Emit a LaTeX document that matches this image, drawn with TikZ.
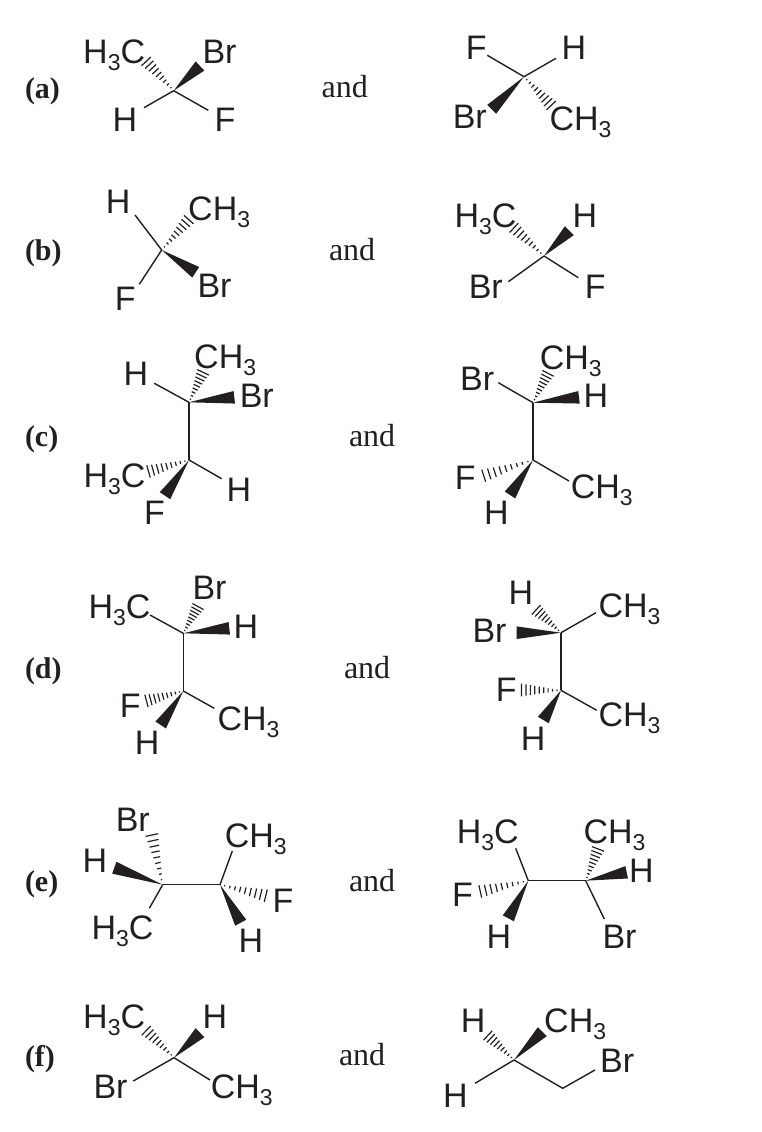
\documentclass[tikz,border=0pt]{standalone}
\usepackage{fontspec}
\usetikzlibrary{calc}
\newfontfamily\atomfont{Liberation Sans}
\newfontfamily\labelfont{Liberation Serif}
\definecolor{inkblack}{HTML}{231F20}
\newcommand{\subthree}{\raisebox{-7pt}{\fontsize{23}{23}\selectfont 3}}
\newcommand{\wedgebond}[2]{\fill[inkblack] (#1) -- ($(#2)!6.3pt!90:(#1)$) -- ($(#2)!6.3pt!-90:(#1)$) -- cycle;}
\newcommand{\hashbond}[2]{\foreach \t in {0.1,0.21,0.32,0.43,0.54,0.65,0.76,0.87,0.98} {
	\coordinate (hashpt) at ($(#1)!\t!(#2)$);
	\draw[hashline] ($(hashpt)!\t*6.5pt!90:(#2)$) -- ($(hashpt)!\t*6.5pt!-90:(#2)$);
}}
\tikzset{
	atom/.style={font=\atomfont\fontsize{34}{34}\selectfont,text=inkblack,anchor=base west,inner sep=0,outer sep=0,xshift=-2.5pt,yshift=-0.5pt},
	partlabel/.style={font=\labelfont\bfseries\fontsize{30}{30}\selectfont,text=inkblack,anchor=base west,inner sep=0,outer sep=0},
	andlabel/.style={font=\labelfont\fontsize{32}{32}\selectfont,text=inkblack,anchor=base west,inner sep=0,outer sep=0},
	bond/.style={draw=inkblack,line width=1.4pt},
	hashline/.style={draw=inkblack,line width=1.2pt}
}
\begin{document}
\begin{tikzpicture}[x=1pt,y=-1pt]
	\useasboundingbox (0,0) rectangle (762,1132);

	\node[partlabel] (pa) at (25,98.3) {(a)};
	\node[andlabel] (anda) at (321.7,97.3) {and};
	\node[atom] (a1me) at (85.7,62.7) {H\subthree C};
	\node[atom] (a1br) at (205,62.7) {Br};
	\node[atom] (a1h) at (115,130.7) {H};
	\node[atom] (a1f) at (217,130.7) {F};
	\coordinate (a1) at (173.7,90.7);
	\coordinate (a1mee) at (145.7,60.7);
	\coordinate (a1bre) at (200,66);
	\coordinate (a1he) at (144,107.7);
	\coordinate (a1fe) at (208.3,110.3);
	\hashbond{a1}{a1mee}
	\wedgebond{a1}{a1bre}
	\draw[bond] (a1) -- (a1he);
	\draw[bond] (a1) -- (a1fe);

	\node[atom] (a2f) at (468.3,59) {F};
	\node[atom] (a2h) at (564,59) {H};
	\node[atom] (a2br) at (455.3,128.3) {Br};
	\node[atom] (a2me) at (552,130) {CH\subthree};
	\coordinate (a2) at (524,76.7);
	\coordinate (a2fe) at (487.3,55.3);
	\coordinate (a2he) at (556,58.3);
	\coordinate (a2bre) at (491.7,109.3);
	\coordinate (a2mee) at (551.7,106);
	\draw[bond] (a2) -- (a2fe);
	\draw[bond] (a2) -- (a2he);
	\wedgebond{a2}{a2bre}
	\hashbond{a2}{a2mee}

	\node[partlabel] (pb) at (25,260.7) {(b)};
	\node[andlabel] (andb) at (329,260.7) {and};
	\node[atom] (b1h) at (108.3,213.3) {H};
	\node[atom] (b1me) at (190.7,220) {CH\subthree};
	\node[atom] (b1br) at (200,296.7) {Br};
	\node[atom] (b1f) at (117.3,310) {F};
	\coordinate (b1) at (161.7,250);
	\coordinate (b1he) at (135,215);
	\coordinate (b1mee) at (189.3,219);
	\coordinate (b1bre) at (195.7,272.3);
	\coordinate (b1fe) at (139.3,284.3);
	\draw[bond] (b1) -- (b1he);
	\hashbond{b1}{b1mee}
	\wedgebond{b1}{b1bre}
	\draw[bond] (b1) -- (b1fe);

	\node[atom] (b2me) at (457,226.7) {H\subthree C};
	\node[atom] (b2h) at (575,226.7) {H};
	\node[atom] (b2br) at (471.3,298.3) {Br};
	\node[atom] (b2f) at (587.3,297.7) {F};
	\coordinate (b2) at (544,256);
	\coordinate (b2mee) at (513.3,227.3);
	\coordinate (b2he) at (569.3,230.7);
	\coordinate (b2bre) at (508.3,281.7);
	\coordinate (b2fe) at (578.3,277.7);
	\hashbond{b2}{b2mee}
	\wedgebond{b2}{b2he}
	\draw[bond] (b2) -- (b2bre);
	\draw[bond] (b2) -- (b2fe);

	\node[partlabel] (pc) at (25,446.7) {(c)};
	\node[andlabel] (andc) at (349,446.7) {and};
	\node[atom] (c1me) at (196.7,367.7) {CH\subthree};
	\node[atom] (c1h) at (126,385) {H};
	\node[atom] (c1br) at (242.3,406.7) {Br};
	\node[atom] (c1mb) at (86,486.7) {H\subthree C};
	\node[atom] (c1f) at (146.7,524) {F};
	\node[atom] (c1hb) at (229,500.7) {H};
	\coordinate (c1) at (189,402.3);
	\coordinate (c1b) at (189,460);
	\coordinate (c1mee) at (203.3,371.7);
	\coordinate (c1he) at (154.3,383.3);
	\coordinate (c1bre) at (234.3,397.3);
	\coordinate (c1mbe) at (147.7,471.7);
	\coordinate (c1fe) at (165,495.7);
	\coordinate (c1hbe) at (221.7,478.7);
	\draw[bond] (c1) -- (c1b);
	\hashbond{c1}{c1mee}
	\draw[bond] (c1) -- (c1he);
	\wedgebond{c1}{c1bre}
	\hashbond{c1b}{c1mbe}
	\wedgebond{c1b}{c1fe}
	\draw[bond] (c1b) -- (c1hbe);

	\node[atom] (c2me) at (542.3,369.3) {CH\subthree};
	\node[atom] (c2br) at (462.7,390) {Br};
	\node[atom] (c2h) at (586,406.7) {H};
	\node[atom] (c2f) at (457.3,489.3) {F};
	\node[atom] (c2hb) at (486.7,524.3) {H};
	\node[atom] (c2mb) at (573.3,497.7) {CH\subthree};
	\coordinate (c2) at (533,402.7);
	\coordinate (c2b) at (533,460);
	\coordinate (c2mee) at (548.3,372.7);
	\coordinate (c2bre) at (498.3,382.7);
	\coordinate (c2he) at (579,397.3);
	\coordinate (c2fe) at (482.7,476);
	\coordinate (c2hbe) at (510,495);
	\coordinate (c2mbe) at (569,481);
	\draw[bond] (c2) -- (c2b);
	\hashbond{c2}{c2mee}
	\draw[bond] (c2) -- (c2bre);
	\wedgebond{c2}{c2he}
	\hashbond{c2b}{c2fe}
	\wedgebond{c2b}{c2hbe}
	\draw[bond] (c2b) -- (c2mbe);

	\node[partlabel] (pd) at (25,678.3) {(d)};
	\node[andlabel] (andd) at (344,678.3) {and};
	\node[atom] (d1me) at (91,617.7) {H\subthree C};
	\node[atom] (d1br) at (195,599.3) {Br};
	\node[atom] (d1h) at (236,637.7) {H};
	\node[atom] (d1f) at (122.3,716.7) {F};
	\node[atom] (d1hb) at (137.3,754.3) {H};
	\node[atom] (d1mb) at (220,730) {CH\subthree};
	\coordinate (d1) at (183.3,633.3);
	\coordinate (d1b) at (183.3,691);
	\coordinate (d1mee) at (150,615);
	\coordinate (d1bre) at (198.3,606);
	\coordinate (d1he) at (229.3,628.3);
	\coordinate (d1fe) at (145.7,701);
	\coordinate (d1hbe) at (160.7,725);
	\coordinate (d1mbe) at (214.3,708.3);
	\draw[bond] (d1) -- (d1b);
	\draw[bond] (d1) -- (d1mee);
	\hashbond{d1}{d1bre}
	\wedgebond{d1}{d1he}
	\hashbond{d1b}{d1fe}
	\wedgebond{d1b}{d1hbe}
	\draw[bond] (d1b) -- (d1mbe);

	\node[atom] (d2h) at (511,604) {H};
	\node[atom] (d2me) at (601,617.3) {CH\subthree};
	\node[atom] (d2br) at (475,641.7) {Br};
	\node[atom] (d2f) at (498.3,701) {F};
	\node[atom] (d2hb) at (523.3,750) {H};
	\node[atom] (d2mb) at (601,726) {CH\subthree};
	\coordinate (d2) at (561,632.7);
	\coordinate (d2b) at (561,690.3);
	\coordinate (d2he) at (535.7,609.3);
	\coordinate (d2mee) at (596,612.7);
	\coordinate (d2bre) at (516.7,632.7);
	\coordinate (d2fe) at (520.7,690);
	\coordinate (d2hbe) at (543.3,720);
	\coordinate (d2mbe) at (596.7,710.3);
	\draw[bond] (d2) -- (d2b);
	\hashbond{d2}{d2he}
	\draw[bond] (d2) -- (d2mee);
	\wedgebond{d2}{d2bre}
	\hashbond{d2b}{d2fe}
	\wedgebond{d2b}{d2hbe}
	\draw[bond] (d2b) -- (d2mbe);

	\node[partlabel] (pe) at (25,891.7) {(e)};
	\node[andlabel] (ande) at (349,891.7) {and};
	\node[atom] (e1br) at (118.3,830.7) {Br};
	\node[atom] (e1h) at (85,871.7) {H};
	\node[atom] (e1me) at (94,939) {H\subthree C};
	\node[atom] (e1mr) at (227.3,847.3) {CH\subthree};
	\node[atom] (e1f) at (275,911.7) {F};
	\node[atom] (e1hr) at (241,952.3) {H};
	\coordinate (e1) at (162.7,884.7);
	\coordinate (e1r) at (220,884.7);
	\coordinate (e1bre) at (151.7,834);
	\coordinate (e1he) at (114.3,867.7);
	\coordinate (e1mee) at (149.3,908.3);
	\coordinate (e1mre) at (232.3,851);
	\coordinate (e1fe) at (266.7,896);
	\coordinate (e1hre) at (240.7,922.7);
	\draw[bond] (e1) -- (e1r);
	\hashbond{e1}{e1bre}
	\wedgebond{e1}{e1he}
	\draw[bond] (e1) -- (e1mee);
	\draw[bond] (e1r) -- (e1mre);
	\hashbond{e1r}{e1fe}
	\wedgebond{e1r}{e1hre}

	\node[atom] (e2me) at (459.3,843.3) {H\subthree C};
	\node[atom] (e2mr) at (586,843.3) {CH\subthree};
	\node[atom] (e2f) at (454.7,906) {F};
	\node[atom] (e2h) at (489,948.3) {H};
	\node[atom] (e2hr) at (631.7,882.3) {H};
	\node[atom] (e2br) at (605,948.3) {Br};
	\coordinate (e2) at (528.3,880.7);
	\coordinate (e2r) at (585.7,880.7);
	\coordinate (e2mee) at (515.7,848.3);
	\coordinate (e2mre) at (598.3,848.3);
	\coordinate (e2fe) at (479.3,891.7);
	\coordinate (e2he) at (508.3,918.3);
	\coordinate (e2hre) at (626.7,872.3);
	\coordinate (e2bre) at (604.3,919);
	\draw[bond] (e2) -- (e2r);
	\draw[bond] (e2) -- (e2mee);
	\hashbond{e2}{e2fe}
	\wedgebond{e2}{e2he}
	\hashbond{e2r}{e2mre}
	\wedgebond{e2r}{e2hre}
	\draw[bond] (e2r) -- (e2bre);

	\node[partlabel] (pf) at (25,1066) {(f)};
	\node[andlabel] (andf) at (339,1065) {and};
	\node[atom] (f1me) at (85.7,1028.3) {H\subthree C};
	\node[atom] (f1h) at (205,1028.3) {H};
	\node[atom] (f1br) at (96,1097.7) {Br};
	\node[atom] (f1mb) at (213.3,1097.7) {CH\subthree};
	\coordinate (f1) at (174,1057.7);
	\coordinate (f1mee) at (145.7,1030);
	\coordinate (f1he) at (200,1032.7);
	\coordinate (f1bre) at (133.3,1081);
	\coordinate (f1mbe) at (210,1080);
	\hashbond{f1}{f1mee}
	\wedgebond{f1}{f1he}
	\draw[bond] (f1) -- (f1bre);
	\draw[bond] (f1) -- (f1mbe);

	\node[atom] (f2h) at (463.3,1031.7) {H};
	\node[atom] (f2me) at (546.7,1032.3) {CH\subthree};
	\node[atom] (f2hb) at (445.7,1106.7) {H};
	\node[atom] (f2br) at (602.7,1071.7) {Br};
	\coordinate (f2) at (514,1060);
	\coordinate (f2c) at (562.7,1088.3);
	\coordinate (f2he) at (487.3,1035);
	\coordinate (f2mee) at (542.3,1031.7);
	\coordinate (f2hbe) at (475,1083.3);
	\coordinate (f2bre) at (595,1070);
	\hashbond{f2}{f2he}
	\wedgebond{f2}{f2mee}
	\draw[bond] (f2) -- (f2hbe);
	\draw[bond] (f2) -- (f2c) -- (f2bre);
\end{tikzpicture}
\end{document}
